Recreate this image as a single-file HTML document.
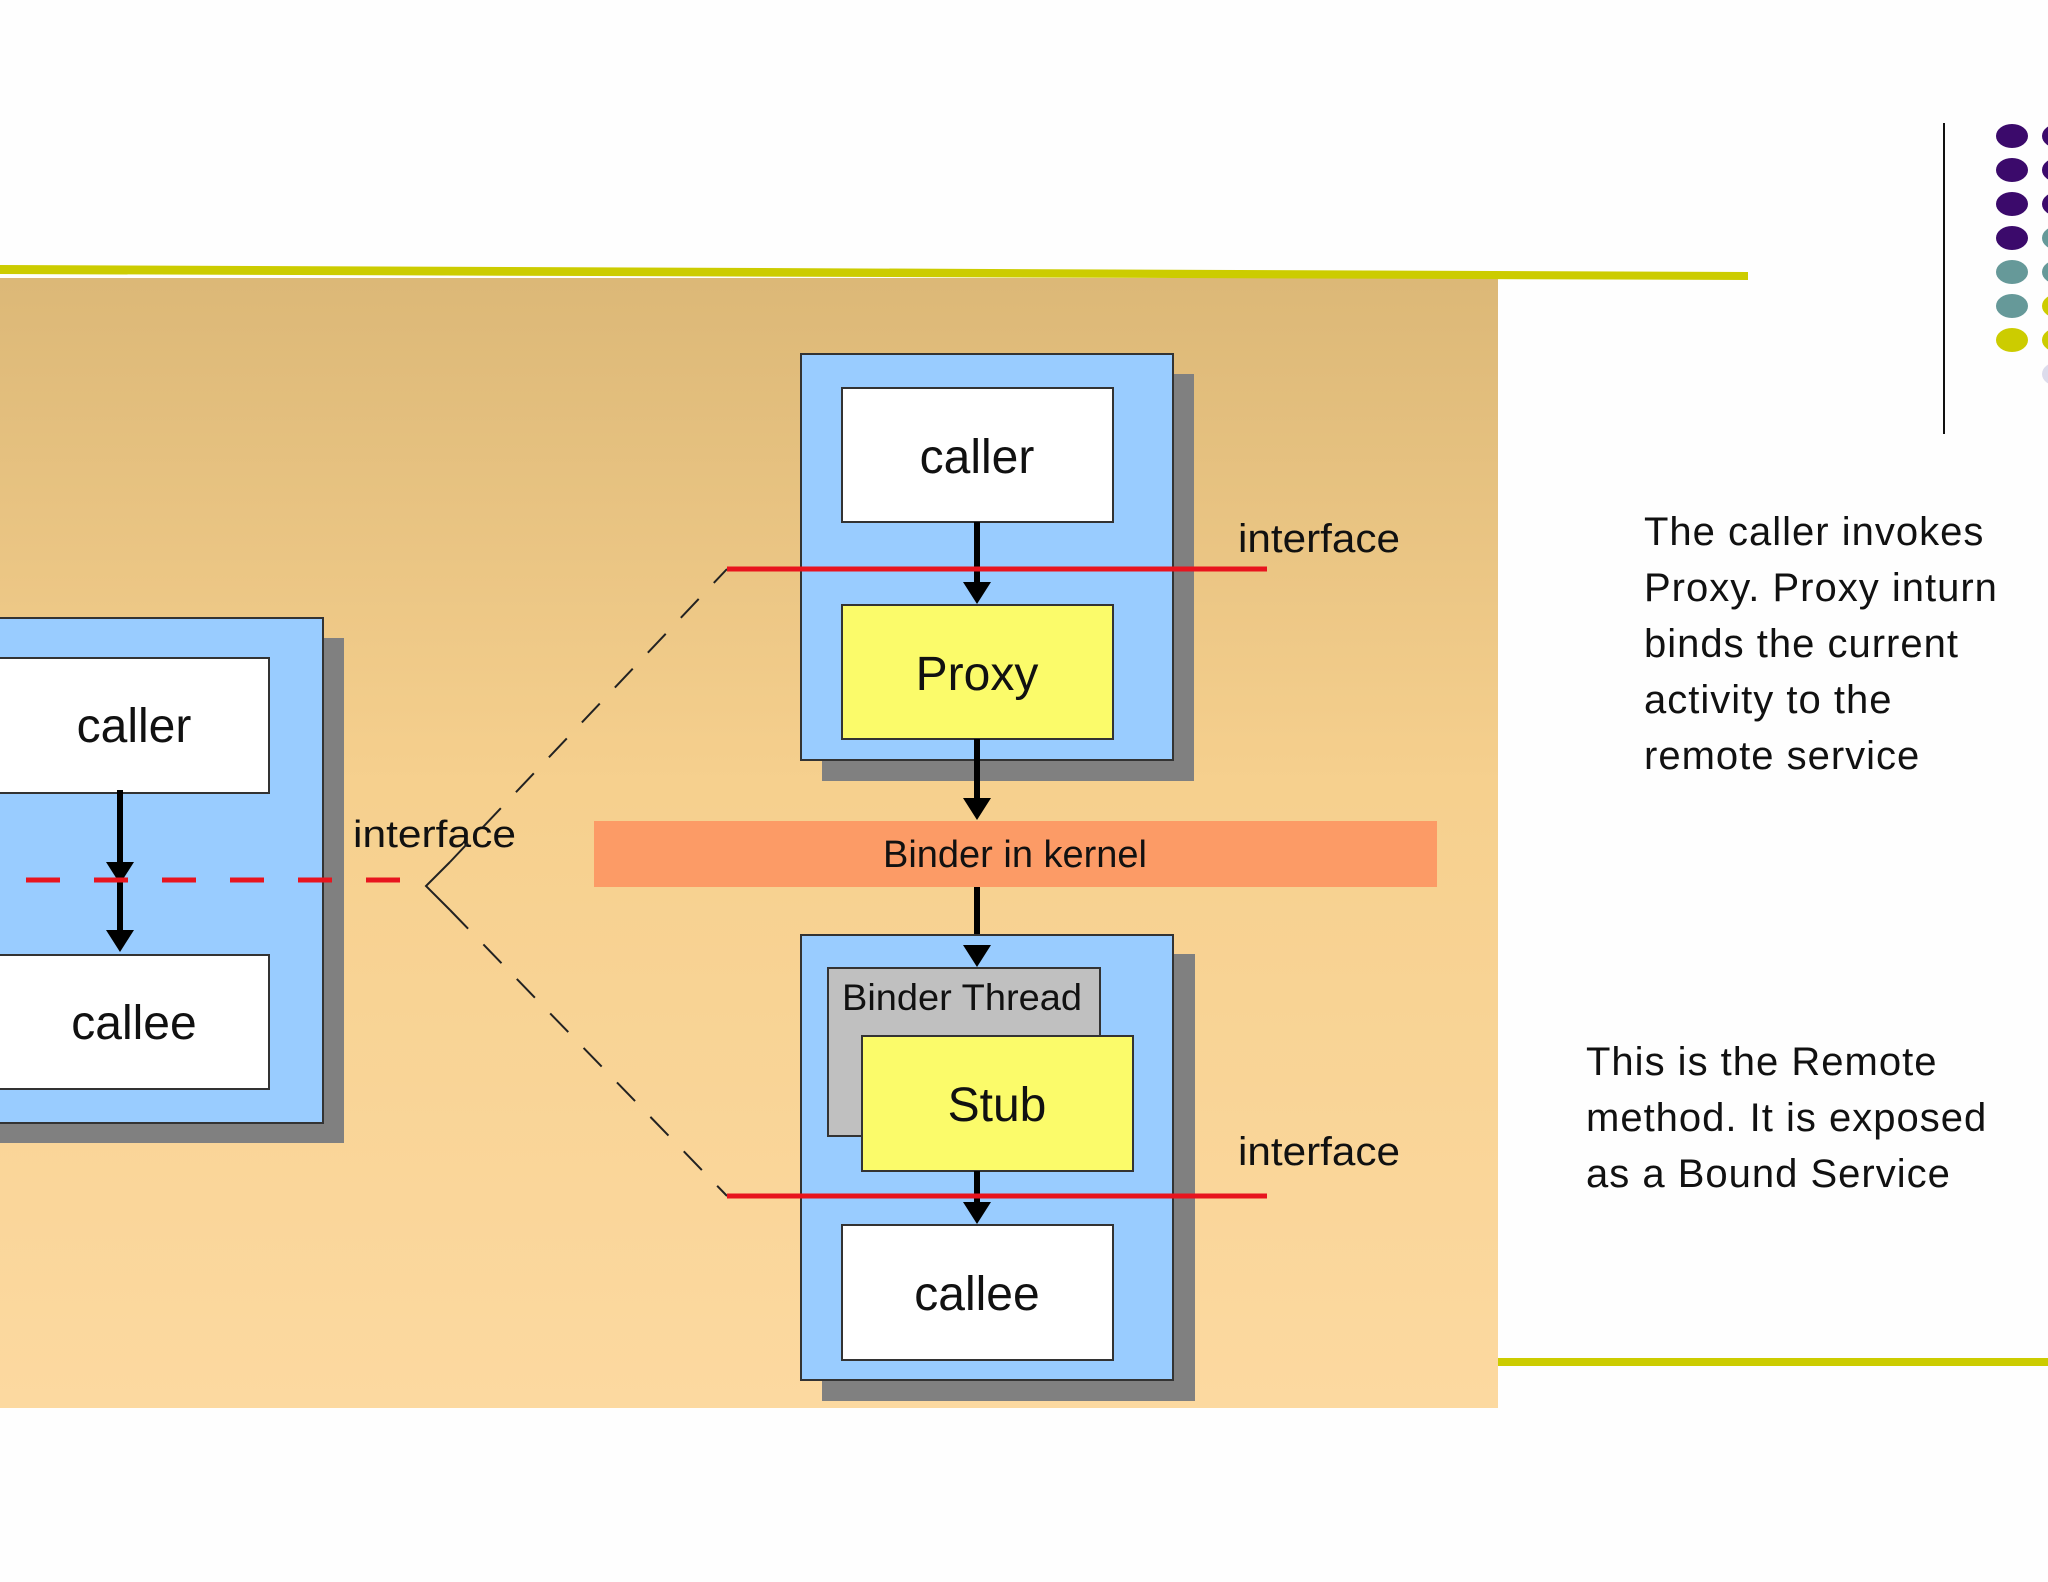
<!DOCTYPE html>
<html><head><meta charset="utf-8"><style>
html,body{margin:0;padding:0;background:#fefefe;}
svg{display:block;}
text{font-family:"Liberation Sans",Arial,sans-serif;}
</style></head><body>
<svg width="2048" height="1582" viewBox="0 0 2048 1582" xmlns="http://www.w3.org/2000/svg">
<defs>
<linearGradient id="bg" x1="0" y1="0" x2="0" y2="1">
<stop offset="0" stop-color="#dcb877"/>
<stop offset="0.45" stop-color="#f6d08e"/>
<stop offset="1" stop-color="#fcd9a0"/>
</linearGradient>
</defs>
<rect x="0" y="0" width="2048" height="1582" fill="#fefefe"/>
<rect x="0" y="278" width="1498" height="1130" fill="url(#bg)"/>
<polygon points="0,265 1748,272 1748,280 0,274" fill="#cccc00"/>
<rect x="1498" y="1358" width="550" height="8" fill="#cccc00"/>
<rect x="1943" y="123" width="2" height="311" fill="#111"/>
<g>
<ellipse cx="2012" cy="136" rx="16" ry="12" fill="#3b0a6b"/>
<ellipse cx="2012" cy="170" rx="16" ry="12" fill="#3b0a6b"/>
<ellipse cx="2012" cy="204" rx="16" ry="12" fill="#3b0a6b"/>
<ellipse cx="2012" cy="238" rx="16" ry="12" fill="#3b0a6b"/>
<ellipse cx="2012" cy="272" rx="16" ry="12" fill="#669999"/>
<ellipse cx="2012" cy="306" rx="16" ry="12" fill="#669999"/>
<ellipse cx="2012" cy="340" rx="16" ry="12" fill="#cccc00"/>
<ellipse cx="2058" cy="136" rx="16" ry="12" fill="#3b0a6b"/>
<ellipse cx="2058" cy="170" rx="16" ry="12" fill="#3b0a6b"/>
<ellipse cx="2058" cy="204" rx="16" ry="12" fill="#3b0a6b"/>
<ellipse cx="2058" cy="238" rx="16" ry="12" fill="#669999"/>
<ellipse cx="2058" cy="272" rx="16" ry="12" fill="#669999"/>
<ellipse cx="2058" cy="306" rx="16" ry="12" fill="#cccc00"/>
<ellipse cx="2058" cy="340" rx="16" ry="12" fill="#cccc00"/>
<ellipse cx="2058" cy="374" rx="16" ry="12" fill="#dcdcec"/>
</g>

<rect x="0" y="638" width="344" height="505" fill="#808080"/>
<rect x="-5" y="618" width="328" height="505" fill="#99ccff" stroke="#333" stroke-width="2"/>
<rect x="-5" y="658" width="274" height="135" fill="#ffffff" stroke="#333" stroke-width="2"/>
<rect x="-5" y="955" width="274" height="134" fill="#ffffff" stroke="#333" stroke-width="2"/>
<text x="134" y="742" font-size="48" text-anchor="middle" fill="#111">caller</text>
<text x="134" y="1039" font-size="48" text-anchor="middle" fill="#111">callee</text>
<line x1="120" y1="790" x2="120" y2="930" stroke="#000" stroke-width="6"/>
<polygon points="106,862 134,862 120,884" fill="#000"/>
<polygon points="106,930 134,930 120,952" fill="#000"/>
<line x1="26" y1="880" x2="405" y2="880" stroke="#e8141e" stroke-width="5" stroke-dasharray="34,34"/>
<text x="353" y="847" font-size="38" fill="#111" textLength="163" lengthAdjust="spacingAndGlyphs">interface</text>
<polyline points="450,862 426,886 450,910" fill="none" stroke="#222" stroke-width="2"/>
<line x1="450" y1="862" x2="727" y2="569" stroke="#222" stroke-width="2" stroke-dasharray="26,22"/>
<line x1="450" y1="910" x2="727" y2="1196" stroke="#222" stroke-width="2" stroke-dasharray="26,22"/>

<rect x="822" y="374" width="372" height="407" fill="#808080"/>
<rect x="801" y="354" width="372" height="406" fill="#99ccff" stroke="#333" stroke-width="2"/>
<rect x="842" y="388" width="271" height="134" fill="#ffffff" stroke="#333" stroke-width="2"/>
<text x="977" y="473" font-size="48" text-anchor="middle" fill="#111">caller</text>
<rect x="842" y="605" width="271" height="134" fill="#fbfb6a" stroke="#333" stroke-width="2"/>
<text x="977" y="690" font-size="48" text-anchor="middle" fill="#111">Proxy</text>
<line x1="977" y1="522" x2="977" y2="585" stroke="#000" stroke-width="6"/>
<polygon points="963,582 991,582 977,604" fill="#000"/>
<line x1="727" y1="569" x2="1267" y2="569" stroke="#e8141e" stroke-width="5"/>
<text x="1238" y="552" font-size="40" fill="#111" textLength="162" lengthAdjust="spacingAndGlyphs">interface</text>
<line x1="977" y1="739" x2="977" y2="800" stroke="#000" stroke-width="6"/>
<polygon points="963,798 991,798 977,820" fill="#000"/>

<rect x="594" y="821" width="843" height="66" fill="#fc9b66"/>
<text x="1015" y="867" font-size="38" text-anchor="middle" fill="#111">Binder in kernel</text>
<line x1="977" y1="887" x2="977" y2="947" stroke="#000" stroke-width="6"/>

<rect x="822" y="954" width="373" height="447" fill="#808080"/>
<rect x="801" y="935" width="372" height="445" fill="#99ccff" stroke="#333" stroke-width="2"/>
<polygon points="963,945 991,945 977,967" fill="#000"/>
<rect x="828" y="968" width="272" height="168" fill="#c0c0c0" stroke="#333" stroke-width="2"/>
<text x="842" y="1010" font-size="37" fill="#111" textLength="240" lengthAdjust="spacingAndGlyphs">Binder Thread</text>
<rect x="862" y="1036" width="271" height="135" fill="#fbfb6a" stroke="#333" stroke-width="2"/>
<text x="997" y="1121" font-size="48" text-anchor="middle" fill="#111">Stub</text>
<line x1="977" y1="1171" x2="977" y2="1205" stroke="#000" stroke-width="6"/>
<line x1="727" y1="1196" x2="1267" y2="1196" stroke="#e8141e" stroke-width="5"/>
<polygon points="963,1202 991,1202 977,1224" fill="#000"/>
<rect x="842" y="1225" width="271" height="135" fill="#ffffff" stroke="#333" stroke-width="2"/>
<text x="977" y="1310" font-size="48" text-anchor="middle" fill="#111">callee</text>
<text x="1238" y="1165" font-size="40" fill="#111" textLength="162" lengthAdjust="spacingAndGlyphs">interface</text>

<g font-size="40" fill="#111" letter-spacing="1">
<text x="1644" y="545">The caller invokes</text>
<text x="1644" y="601">Proxy. Proxy inturn</text>
<text x="1644" y="657">binds the current</text>
<text x="1644" y="713">activity to the</text>
<text x="1644" y="769">remote service</text>
<text x="1586" y="1075">This is the Remote</text>
<text x="1586" y="1131">method.  It is exposed</text>
<text x="1586" y="1187">as a Bound Service</text>
</g>
</svg>
</body></html>
